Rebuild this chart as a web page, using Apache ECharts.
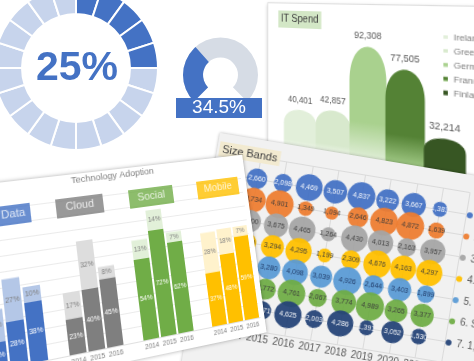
<!DOCTYPE html>
<html><head><meta charset="utf-8">
<script src="https://cdn.jsdelivr.net/npm/echarts@6/dist/echarts.min.js"></script>
<style>
html,body{margin:0;padding:0;width:474px;height:361px;overflow:hidden;background:#fff;}
#base{position:absolute;left:0;top:0;width:474px;height:361px;z-index:1;}
.panel{position:absolute;left:0;top:0;transform-origin:0 0;}
#it{width:240px;height:190px;background:#fff;box-shadow:0 0 0 1px #dedede,-1px 1px 4px rgba(0,0,0,0.22);z-index:2;}
#bub{left:220px;top:133px;width:300px;height:270px;background:#f1f1f1;box-shadow:0 0 3px rgba(0,0,0,0.3);transform:rotate(9.5deg);z-index:3;}
#tech{width:305px;height:192px;background:#fff;box-shadow:0 0 4px rgba(0,0,0,0.35);z-index:4;}
</style></head>
<body>
<div id="base"></div>
<div id="it" class="panel"></div>
<div id="bub" class="panel"></div>
<div id="tech" class="panel"></div>
<script>
// ---------- data ----------
const donutValue = 25;          // percent
const donutSegments = 20;
const gaugeValue = 34.5;        // percent

const itCountries = ['Ireland', 'Greece', 'Germany', 'France', 'Finland'];
const itSpend = [40401, 42857, 92308, 77505, 32214];

const techGroups = ['Big Data', 'Cloud', 'Social', 'Mobile'];
const techYears = ['2014', '2015', '2016'];
const adoptedShare = [17, 28, 38, 23, 40, 45, 54, 72, 62, 37, 48, 59];
const plannedShare = [20, 27, 10, 17, 32, 8, 13, 14, 7, 28, 18, 7];

const bandYears = [2014, 2015, 2016, 2017, 2018, 2019, 2020, 2021];
const bandNames = ['1. 0-99', '2. 100-249', '3. 250-499', '4. 500-749', '5. 750-999', '6. Sub 1,000', '7. 1,000+'];
const band1 = [2660, 2098, 4469, 3507, 4837, 3222, 3667, 1383];
const band2 = [3734, 4901, 1349, 1094, 2646, 4823, 4872, 1639];
const band3 = [3100, 3675, 4465, 1264, 4430, 4013, 2163, 3957];
const band4 = [2500, 3294, 4295, 1199, 2309, 4676, 4163, 4297];
const band5 = [3800, 3280, 4098, 3039, 4926, 2644, 3403, 1899];
const band6 = [2900, 2772, 4761, 2067, 3774, 4989, 3265, 3377];
const band7 = [3300, 2171, 4625, 2003, 4286, 1391, 3052, 1530];

const FONT = 'Liberation Sans';
const fmt = v => Number(v).toLocaleString('en-US');

// projective placement helper for tilted panels
function homography(src, dst) {
  const A = [], b = [];
  for (let i = 0; i < 4; i++) {
    const [x, y] = src[i], [X, Y] = dst[i];
    A.push([x, y, 1, 0, 0, 0, -x * X, -y * X]); b.push(X);
    A.push([0, 0, 0, x, y, 1, -x * Y, -y * Y]); b.push(Y);
  }
  const n = 8;
  for (let c = 0; c < n; c++) {
    let p = c;
    for (let r = c + 1; r < n; r++) if (Math.abs(A[r][c]) > Math.abs(A[p][c])) p = r;
    [A[c], A[p]] = [A[p], A[c]]; [b[c], b[p]] = [b[p], b[c]];
    for (let r = 0; r < n; r++) {
      if (r === c) continue;
      const f = A[r][c] / A[c][c];
      for (let k = c; k < n; k++) A[r][k] -= f * A[c][k];
      b[r] -= f * b[c];
    }
  }
  return b.map((v, i) => v / A[i][i]);
}
function placePanel(el, src, dst) {
  const h = homography(src, dst);
  el.style.transform = `matrix3d(${h[0]},${h[3]},0,${h[6]},${h[1]},${h[4]},0,${h[7]},0,0,1,0,${h[2]},${h[5]},0,1)`;
}

// ---------- base: segmented donut + gauge ----------
const baseChart = echarts.init(document.getElementById('base'));
const filled = Math.round(donutValue / 100 * donutSegments);
const segData = [];
for (let i = 0; i < donutSegments; i++) {
  segData.push({value: 1, itemStyle: {color: i < filled ? '#4472C4' : '#C7D4EC'}});
}
baseChart.setOption({
  animation: false,
  series: [
    {type: 'pie', center: [76, 68], radius: [54, 82], startAngle: 90, silent: true,
     label: {show: false}, labelLine: {show: false},
     itemStyle: {borderColor: '#fff', borderWidth: 2}, data: segData},
    {type: 'gauge', center: [220.5, 75], radius: 37.5, startAngle: 225, endAngle: -45, min: 0, max: 100,
     axisLine: {lineStyle: {width: 20, color: [[1, '#D6DCE5']]}},
     progress: {show: true, width: 20, itemStyle: {color: '#4472C4'}},
     pointer: {show: false}, axisTick: {show: false}, splitLine: {show: false},
     axisLabel: {show: false}, title: {show: false}, anchor: {show: false},
     detail: {formatter: '{value}%', offsetCenter: [-1.5, 33], backgroundColor: '#4472C4',
              width: 86, height: 20, lineHeight: 20, color: '#fff', fontSize: 19,
              fontFamily: FONT, fontWeight: 'normal', padding: 0},
     data: [{value: gaugeValue}]}
  ],
  graphic: [{type: 'text', x: 77, y: 69,
    style: {text: donutValue + '%', textAlign: 'center', textVerticalAlign: 'middle',
            font: 'bold 41px "Liberation Sans"', fill: '#4472C4'}}]
});

// ---------- IT Spend ----------
const itColors = ['#E2EFDA', '#D8E9CD', '#A9D18E', '#548235', '#375623'];
const itLower = ['#ffffff', '#ffffff', '#E2EFDA', '#A9D18E', '#375623'];
const IT = {left: 19, top: 28.8, slot: 36, height: 126.2};
const itEl = document.getElementById('it');
const itChart = echarts.init(itEl);
itChart.setOption({
  animation: false,
  title: {text: 'IT Spend', left: 12, top: 7, backgroundColor: '#D3E7C6', padding: [3, 3, 3, 3],
          textStyle: {fontSize: 10.5, fontWeight: 'normal', color: '#404040', fontFamily: FONT}},
  legend: {orient: 'vertical', left: 175, top: 17.5, icon: 'rect', itemWidth: 4, itemHeight: 4, itemGap: 2.9,
           textStyle: {fontSize: 8, lineHeight: 9, color: '#7f7f7f', fontFamily: FONT}, data: itCountries},
  grid: {left: IT.left, top: IT.top, width: IT.slot * itCountries.length, height: IT.height},
  xAxis: {type: 'category', data: itCountries, show: false},
  yAxis: {type: 'value', min: 0, max: 100000, show: false},
  series: itCountries.map((c, i) => ({
    type: 'pictorialBar', name: c, barGap: '-100%',
    symbol: 'path://M0,100 L0,28 C0,-9 100,-9 100,28 L100,100 Z',
    symbolSize: [37, '100%'], symbolRepeat: false,
    itemStyle: {color: new echarts.graphic.LinearGradient(0, 0, 0, 1, [
      {offset: 0, color: itColors[i]}, {offset: 0.6, color: itColors[i]},
      {offset: 0.9, color: itLower[i]}, {offset: 1, color: itLower[i]}])},
    label: {show: true, position: 'top', distance: 5, formatter: p => fmt(p.value),
            fontSize: 9, color: '#595959', fontFamily: FONT},
    data: itSpend.map((v, j) => j === i ? v : '-')
  }))
});
{
  const x0 = IT.left + IT.slot * 0.5, x1 = IT.left + IT.slot * 4.5;
  const yb = IT.top + IT.height, yt = IT.top;
  placePanel(itEl, [[x0, yb], [x1, yb], [x1, yt], [x0, yt]],
                   [[300, 162], [444.5, 186], [444.5, 39.7], [300, 33.2]]);
}

// ---------- Size Bands ----------
const bands = [band1, band2, band3, band4, band5, band6, band7];
const bandColors = ['#4472C4', '#ED7D31', '#A5A5A5', '#FFC000', '#5B9BD5', '#70AD47', '#264478'];
const bandText = ['#ffffff', '#3a3a3a', '#3a3a3a', '#3a3a3a', '#1F3864', '#3a3a3a', '#ffffff'];
const bubChart = echarts.init(document.getElementById('bub'));
bubChart.setOption({
  animation: false,
  title: {text: 'Size Bands', left: 2, top: 8, backgroundColor: '#F2EAD0', padding: [2, 3, 2, 3],
          textStyle: {fontSize: 11, fontWeight: 'normal', color: '#404040', fontFamily: FONT}},
  legend: {orient: 'vertical', left: 252, top: 29, icon: 'circle', itemWidth: 6, itemHeight: 6, itemGap: 9.5,
           textStyle: {fontSize: 10, lineHeight: 12, color: '#595959', fontFamily: FONT}, data: bandNames},
  grid: {left: 17.5, top: 17.5, width: 238.5, height: 172},
  xAxis: {type: 'value', min: 2013, max: 2022, interval: 1,
          axisLine: {show: false}, axisTick: {show: false},
          splitLine: {lineStyle: {color: '#dadada'}},
          axisLabel: {fontSize: 10, color: '#595959', margin: 3, fontFamily: FONT,
                      formatter: v => (v >= bandYears[0] && v <= bandYears[bandYears.length - 1]) ? String(v) : ''}},
  yAxis: {type: 'value', min: 0, max: 8, interval: 1, inverse: true,
          axisLine: {show: false}, axisTick: {show: false}, axisLabel: {show: false},
          splitLine: {lineStyle: {color: '#dadada'}}},
  series: bands.map((vals, i) => ({
    type: 'scatter', name: bandNames[i],
    data: vals.map((v, j) => [bandYears[j], i + 1, v]),
    symbolSize: d => 0.4 * Math.sqrt(d[2]),
    itemStyle: {color: bandColors[i], opacity: 0.95},
    label: {show: true, position: 'inside', formatter: p => fmt(p.value[2]),
            fontSize: 7, color: bandText[i], fontFamily: FONT}
  }))
});

// ---------- Technology Adoption ----------
const techDark = ['#4472C4', '#7F7F7F', '#70AD47', '#FFC000'];
const techLight = ['#B4C7E7', '#DDDDDD', '#E2F0D9', '#FFF2CC'];
const techCats = [], adoptedData = [], plannedData = [], headerData = [];
techGroups.forEach((g, gi) => {
  techYears.forEach((y, yi) => {
    techCats.push(g + ' ' + y);
    adoptedData.push({value: adoptedShare[gi * 3 + yi], itemStyle: {color: techDark[gi]}});
    plannedData.push({value: plannedShare[gi * 3 + yi], itemStyle: {color: techLight[gi]}});
  });
  headerData.push({name: g, value: [techCats.length - 2, 95], itemStyle: {color: techDark[gi]},
                   symbolSize: [g.length > 6 ? 50 : 46, 19]});
  if (gi < techGroups.length - 1) { techCats.push('gap' + gi); adoptedData.push('-'); plannedData.push('-'); }
});
const T = {left: 30, top: 25, slot: 18, height: 150};
const techEl = document.getElementById('tech');
const techChart = echarts.init(techEl);
techChart.setOption({
  animation: false,
  graphic: [{type: 'text', x: 165, y: 7, style: {text: 'Technology Adoption', textAlign: 'center',
             textVerticalAlign: 'middle', fontSize: 9, fill: '#7f7f7f', fontFamily: FONT}}],
  grid: {left: T.left, top: T.top, width: T.slot * techCats.length, height: T.height},
  xAxis: {type: 'category', data: techCats, axisTick: {show: false},
          axisLine: {lineStyle: {color: '#e0e0e0'}},
          axisLabel: {interval: 0, fontSize: 6.5, color: '#7f7f7f', margin: 4, fontFamily: FONT,
                      formatter: v => v.startsWith('gap') ? '' : v.slice(-4)}},
  yAxis: {type: 'value', min: 0, max: 100, interval: 10, axisLabel: {show: false},
          axisLine: {show: false}, axisTick: {show: false}, splitLine: {lineStyle: {color: '#ebebeb'}}},
  series: [
    {type: 'bar', stack: 't', barWidth: 16, data: adoptedData,
     label: {show: true, position: 'inside', formatter: '{c}%', fontSize: 6.5, color: '#fff', fontFamily: FONT}},
    {type: 'bar', stack: 't', barWidth: 16, data: plannedData,
     label: {show: true, position: 'inside', formatter: '{c}%', fontSize: 6.5, color: '#7f7f7f', fontFamily: FONT}},
    {type: 'scatter', symbol: 'rect', data: headerData, z: 5,
     label: {show: true, position: 'inside', formatter: '{b}', color: '#fff', fontSize: 10.5, fontFamily: FONT}}
  ]
});
{
  const xCloud = T.left + T.slot * 5.5, xMobile = T.left + T.slot * 13.5;
  const yBase = T.top + T.height, yHead = T.top + T.height * 0.05;
  placePanel(techEl, [[xCloud, yBase], [xMobile, yBase], [xMobile, yHead], [xCloud, yHead]],
                     [[97, 350], [236, 322], [218, 188], [80, 206]]);
}
</script>
</body></html>
